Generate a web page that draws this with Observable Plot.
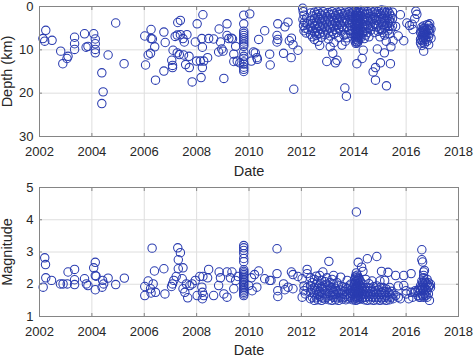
<!DOCTYPE html>
<html><head><meta charset="utf-8">
<script src="https://cdn.jsdelivr.net/npm/d3@7"></script>
<script src="https://cdn.jsdelivr.net/npm/@observablehq/plot@0.6"></script>
<style>
body{margin:0;background:#fff}
#chart{width:474px;height:356px;overflow:hidden;background:#fff}
#chart svg{display:block}
</style>
</head><body><div id="chart"></div>
<script>
// ---- tick values ----
const yearTicks = [2002, 2004, 2006, 2008, 2010, 2012, 2014, 2016, 2018];
const depthTicks = [0, 10, 20, 30];
const magTicks = [1, 2, 3, 4, 5];

// ---- depth (km) by decimal year: [year, [depths...]] ----
const depthSparse = [
[2002.13,[7.4]],[2002.2,[8.0]],[2002.24,[5.5]],[2002.48,[7.8]],[2002.81,[10.3]],[2002.89,[13.2]],[2003.05,[12.0]],[2003.09,[11.5]],[2003.34,[7.1,8.6,9.9]],[2003.72,[6.3]],[2003.78,[9.4]],[2003.85,[9.2]],[2004.07,[6.3]],[2004.13,[7.5,8.6,9.9,10.7]],[2004.38,[15.3,22.4]],[2004.43,[19.7]],[2004.62,[11.2]],[2004.91,[3.8]],[2005.23,[13.2]],
[2006.02,[6.8]],[2006.05,[13.5]],[2006.15,[11.2]],[2006.24,[10.8]],[2006.26,[5.3,7.4]],[2006.31,[7.5]],[2006.4,[9.3]],[2006.43,[17.0]],[2006.75,[5.9,14.9]],[2006.8,[8.3]],[2007.05,[12.4]],[2007.08,[13.6,14.1]],[2007.1,[10.1]],[2007.18,[6.9]],[2007.26,[6.6,10.7]],[2007.28,[3.7]],[2007.34,[11.1]],[2007.38,[3.2,6.5]],[2007.48,[7.4]],[2007.5,[11.2]],[2007.53,[8.2]],[2007.58,[13.4]],[2007.63,[6.5]],[2007.71,[11.5]],[2007.72,[14.1]],[2007.83,[17.4]],[2007.95,[8.2]],[2008.0,[12.6]],[2008.02,[4.0]],[2008.14,[12.6]],[2008.17,[16.4]],[2008.2,[7.4]],[2008.22,[9.4,14.1]],[2008.24,[1.9]],[2008.27,[12.6]],[2008.42,[11.8]],[2008.46,[7.4]],[2008.65,[7.5]],[2008.84,[10.5]],[2008.86,[5.2]],[2008.91,[8.2]],[2008.96,[9.8]],[2009.01,[10.3]],[2009.04,[16.6]],[2009.16,[4.0,6.7]],[2009.23,[7.4]],[2009.33,[7.3]],[2009.37,[7.5]],[2009.42,[11.0,12.7]],[2009.49,[9.2]],[2009.55,[12.6]],[2009.65,[13.0]],
[2009.8,[2.0,4.0,5.7,6.2,6.7,7.2,7.7,8.2,8.7,9.2,10.5,11.5,12.0,12.8,13.3,14.0,14.5,15.0]],
[2010.03,[1.7]],[2010.09,[12.6]],[2010.17,[10.5]],[2010.24,[10.7]],[2010.3,[11.8]],[2010.32,[12.2]],[2010.37,[7.6]],[2010.6,[5.6]],[2010.79,[11.0]],[2010.81,[13.5]],[2011.07,[6.7,8.2]],[2011.1,[4.0,7.6]],[2011.32,[10.8]],[2011.37,[4.7]],[2011.49,[3.6]],[2011.54,[7.9]],[2011.61,[11.8]],[2011.62,[7.3]],[2011.68,[8.8]],[2011.71,[19.1]],[2011.87,[10.1]]
];
const depthSwarm2012 = [
[2012.05,[0.4]],[2012.07,[1.2]],[2012.1,[2.0,5.6]],[2012.06,[3.0]],[2012.12,[3.6]],[2012.08,[4.4]],[2012.14,[5.0]],[2012.18,[6.1]],[2012.2,[2.6]],[2012.22,[4.0]],[2012.25,[5.3]],
[2012.35,[1.5,3.2,4.8,6.4]],[2012.42,[2.2,3.9,5.5,7.0]],[2012.5,[1.3,2.8,4.4,6.0,7.6]],[2012.57,[1.8,3.4,5.1,6.7]],[2012.63,[1.1,2.5,4.0,5.7,8.0]],[2012.7,[1.6,3.0,4.6,6.2,9.0]],[2012.77,[2.0,3.6,5.2,7.1]],[2012.83,[1.2,2.7,4.3,5.9]],[2012.9,[1.7,3.3,4.9,6.5]],[2012.97,[2.3,3.8,5.4,12.7]],
[2013.03,[1.4,2.9,4.5,6.1,7.5]],[2013.1,[1.9,3.5,5.0,6.8,9.3]],[2013.17,[1.2,2.6,4.2,5.8]],[2013.2,[10.8]],[2013.24,[1.7,3.2,4.7,6.3,8.3]],[2013.3,[2.1,3.7,5.3,13.0]],[2013.36,[1.3,2.8,4.4,6.0,12.4]],[2013.42,[1.8,3.4,5.0,7.1]],[2013.49,[1.1,2.5,4.1,5.6]],[2013.55,[1.6,3.1,4.6,8.9]],[2013.62,[2.0,3.6,5.2,6.6]],[2013.66,[18.8]],[2013.68,[1.3,2.7,6.5,8.0]],[2013.72,[20.7]],[2013.75,[1.8,3.3,4.8,7.2]],[2013.82,[1.2,2.4,4.0,5.5]],[2013.88,[1.7,3.0,4.5,6.2]],[2013.95,[1.3,2.6,3.9,5.3]]
];
const depthSwarm2014 = [
[2014.05,[1.0,2.1,3.0,4.1,5.0,6.1,7.0,8.0]],[2014.08,[1.5,2.5,3.6,4.5,5.6,6.5,7.5,8.5]],[2014.11,[1.2,2.2,3.2,4.3,5.2,6.3,7.2,8.2]],[2014.12,[13.2]],[2014.14,[1.7,2.7,3.8,4.7,5.7,6.8,7.7,8.4]],[2014.17,[1.0,2.0,3.1,4.0,5.1,6.0,7.1,8.0]],[2014.2,[1.4,2.8,4.3,5.8,7.3]],[2014.23,[2.0,3.5,5.0,6.5]],
[2014.27,[0.9,2.3,3.9,5.6,7.2]],[2014.32,[12.0]],[2014.33,[1.5,3.0,4.6,6.1]],[2014.36,[10.1]],[2014.4,[1.0,2.6,4.2,5.8,7.4]],[2014.46,[1.8,3.4,5.0,6.6]],[2014.52,[1.2,2.8,4.4,6.0]],[2014.58,[1.6,3.2,4.8,7.0]],[2014.65,[1.0,2.4,3.8,5.4]],[2014.72,[1.5,3.0,4.6]],[2014.74,[15.1]],[2014.79,[1.1,2.5,4.0,6.0]],[2014.83,[14.1,17.0]],[2014.86,[1.7,3.2,4.7]],[2014.9,[9.8]],[2014.93,[1.2,2.6,4.2,5.7]],
[2015.0,[1.6,3.0,5.2,7.0]],[2015.02,[13.0]],[2015.06,[0.8,2.2,3.7,5.4]],[2015.12,[1.3,2.8,4.3,6.0]],[2015.17,[10.7]],[2015.18,[0.9,2.0,3.5,5.0,6.6]],[2015.24,[1.4,2.9,4.4,8.0]],[2015.25,[18.3]],[2015.3,[1.0,2.4,3.9,5.6]],[2015.36,[1.6,3.1,4.6,6.3]],[2015.4,[13.2]],[2015.42,[2.2,3.6,5.2,9.3]],[2015.48,[1.3,2.8,4.5]],[2015.5,[7.9]],
[2015.6,[4.6]],[2015.7,[6.8]],[2015.78,[1.9]],[2015.91,[7.9]],[2016.03,[3.8]],[2016.13,[4.4]],[2016.23,[4.1]],[2016.26,[5.3]],[2016.33,[2.8]],[2016.37,[1.1]],[2016.41,[1.8]],
[2016.55,[6.0,7.6,8.4]],[2016.6,[4.8,5.8,6.8,7.8,9.0]],[2016.64,[5.2,6.2,7.2,8.2]],[2016.67,[4.5,5.5,6.5,7.5,10.3]],[2016.7,[5.0,6.0,7.0,8.6]],[2016.74,[5.6,6.6,7.6]],[2016.8,[4.2,5.2,6.4,8.0]],[2016.86,[4.4,5.5,7.0,8.8]],[2016.9,[4.0,5.0,6.2]],[2016.95,[5.2,7.3]]
];

// ---- magnitude by decimal year: [year, [magnitudes...]] ----
const magSparse = [
[2002.14,[1.91]],[2002.2,[2.82]],[2002.23,[2.61]],[2002.24,[2.2]],[2002.46,[2.12]],[2002.8,[2.01]],[2002.9,[2.01]],[2003.06,[2.01]],[2003.09,[2.38]],[2003.34,[2.46,2.14,1.99]],[2003.72,[2.17]],[2003.79,[2.01]],[2003.85,[1.96]],[2004.07,[2.51]],[2004.13,[2.68,2.27,1.83]],[2004.16,[2.25]],[2004.39,[1.91]],[2004.41,[2.12]],[2004.45,[2.01]],[2004.62,[2.19]],[2004.91,[1.99]],[2005.24,[2.19]],
[2006.02,[1.93,1.65]],[2006.15,[2.1]],[2006.24,[1.86]],[2006.26,[1.73]],[2006.3,[3.12]],[2006.34,[2.01]],[2006.39,[2.41]],[2006.43,[1.75]],[2006.75,[2.48]],[2006.79,[1.7]],[2007.04,[1.93]],[2007.08,[2.01]],[2007.13,[2.12]],[2007.22,[2.24]],[2007.28,[3.13]],[2007.3,[2.76,2.48]],[2007.38,[2.98]],[2007.45,[2.17]],[2007.48,[2.51,1.86]],[2007.55,[1.75]],[2007.61,[2.01]],[2007.66,[1.58]],[2007.74,[1.96]],[2007.83,[2.01]],[2007.95,[2.12]],[2008.02,[1.65]],[2008.12,[2.24]],[2008.2,[1.91]],[2008.22,[1.75,1.55]],[2008.24,[2.24]],[2008.27,[1.65]],[2008.42,[2.2]],[2008.46,[2.46]],[2008.65,[1.65]],[2008.84,[1.96]],[2008.86,[2.38]],[2008.91,[2.2]],[2009.04,[1.7]],[2009.16,[1.6,2.38]],[2009.29,[2.2]],[2009.35,[2.38]],[2009.42,[1.86]],[2009.49,[2.12]],[2009.58,[2.24]],
[2009.8,[3.2,3.13,3.05,2.95,2.8,2.7,2.45,2.4,2.35,2.3,2.25,2.2,2.15,2.1,2.05,2.0,1.95,1.9,1.85,1.8,1.75,1.7,1.65]],
[2009.99,[1.96]],[2010.09,[2.2]],[2010.12,[1.8]],[2010.21,[2.3]],[2010.3,[1.91]],[2010.37,[2.41]],[2010.6,[2.17]],[2010.79,[2.12]],[2010.84,[2.12]],[2011.07,[3.1,2.33]],[2011.1,[1.8,1.62]],[2011.32,[2.01]],[2011.37,[1.83]],[2011.49,[1.91]],[2011.62,[2.38]],[2011.68,[2.3,1.86]],[2011.87,[2.24]]
];
const magSwarm2012 = [
[2012.03,[2.17,1.6]],[2012.1,[1.95,1.8]],[2012.15,[1.7]],[2012.22,[2.46,2.33,1.9]],
[2012.35,[1.55,1.75,1.95,2.2]],[2012.42,[1.6,1.85,2.05]],[2012.5,[1.5,1.7,1.9,2.15]],[2012.57,[1.58,1.8,2.0,2.25]],[2012.63,[1.52,1.68,1.88,2.1]],[2012.7,[1.62,1.78,1.98,2.27]],[2012.77,[1.5,1.72,1.92,2.12]],[2012.82,[1.58,1.85,2.38]],[2012.9,[1.54,1.7,1.9,2.08]],[2012.97,[1.6,1.8,2.0,2.2]],
[2013.05,[1.52,1.72,1.95,2.71]],[2013.1,[1.65,1.85,2.05]],[2013.17,[1.5,1.7,1.9,2.15]],[2013.23,[1.6,1.78,2.0,2.27]],[2013.3,[1.52,1.68,1.88]],[2013.36,[1.58,1.8,2.05]],[2013.42,[1.5,1.72,1.95]],[2013.5,[1.6,1.82,2.22]],[2013.57,[1.54,1.7,1.92]],[2013.64,[1.6,1.78]],[2013.7,[1.52,1.68,1.9]],[2013.75,[1.62,1.85,2.12]],[2013.82,[1.55,1.72,1.95]],[2013.88,[1.6,1.8,2.0]],[2013.95,[1.52,1.7,1.88]]
];
const magSwarm2014 = [
[2014.03,[1.55,1.7,1.85,2.0,2.15]],[2014.07,[1.5,1.62,1.78,1.92,2.08,2.25]],[2014.1,[1.58,1.72,1.88,2.02,2.2,2.35,4.24]],[2014.14,[1.52,1.66,1.8,1.96,2.12,2.28]],[2014.17,[1.6,1.75,1.9,2.05,2.18,2.68]],[2014.21,[1.54,1.7,1.85,2.0,2.15]],[2014.25,[1.62,1.78,1.95,2.1]],[2014.3,[1.55,1.72,1.9,2.53]],[2014.35,[1.6,1.8,2.0,2.4]],[2014.4,[1.52,1.68,1.88]],[2014.46,[1.6,1.78,2.15]],[2014.52,[1.5,1.7,1.9,2.79]],[2014.58,[1.62,1.8,2.02]],[2014.64,[1.52,1.7,1.88]],[2014.7,[1.6,1.78,2.1]],[2014.76,[1.5,1.68,1.92]],[2014.82,[1.6,1.8]],[2014.88,[1.52,1.72,1.95,2.86]],[2014.94,[1.6,1.82]],
[2015.0,[1.5,1.68,1.9,2.1]],[2015.06,[1.58,1.75,2.4]],[2015.12,[1.52,1.7,1.9]],[2015.18,[1.6,1.78,2.12]],[2015.24,[1.5,1.65,1.85]],[2015.31,[1.58,1.75,2.37]],[2015.37,[1.52,1.7,1.9]],[2015.43,[1.6,1.78]],[2015.5,[1.55,1.7]],[2015.6,[2.27,1.65]],[2015.7,[1.6,1.95]],[2015.78,[1.55]],[2015.91,[2.27,1.96]],[2016.0,[1.8,1.7]],[2016.1,[1.55]],[2016.19,[2.33,1.75]],[2016.25,[1.6]],[2016.35,[1.75,1.8]],[2016.45,[1.8,1.65]],[2016.5,[1.85,1.6]],
[2016.55,[1.6,1.8,1.95]],[2016.6,[3.07,2.76,1.7,1.9,2.1]],[2016.63,[2.69,1.65,1.85,2.05]],[2016.67,[2.38,2.27,1.6,1.8,2.0,2.2]],[2016.7,[2.43,1.7,1.9,2.1]],[2016.75,[1.65,1.85,2.05]],[2016.8,[1.6,1.8,2.0,2.15]],[2016.85,[1.7,1.9,2.05]],[2016.89,[1.5,1.95]],[2016.93,[1.9,2.0]]
];

// ---- build rows ----
const toRows = groups => groups.flatMap(([year, vals]) => vals.map(v => ({year, v})));
const depthRows = toRows([...depthSparse, ...depthSwarm2012, ...depthSwarm2014]);
const magRows = toRows([...magSparse, ...magSwarm2012, ...magSwarm2014]);

const blue = "#2a3cb0";
const gridColor = "#dedede";
const frameColor = "#858585";
const font = "'Liberation Sans', Arial, sans-serif";

function panel({rows, yDomain, yReverse, yTicks, yLabel, marginTop, marginBottom, xLabelOffset}) {
  return Plot.plot({
    width: 474, height: 178,
    marginLeft: 39, marginRight: 16, marginTop, marginBottom,
    style: {fontFamily: font, fontSize: "13px", color: "#262626", background: "#fff", overflow: "visible"},
    x: {domain: [2002, 2018]},
    y: {domain: yDomain, reverse: yReverse},
    marks: [
      Plot.gridX(yearTicks, {stroke: gridColor, strokeOpacity: 1}),
      Plot.gridY(yTicks, {stroke: gridColor, strokeOpacity: 1}),
      Plot.dot(rows, {x: "year", y: "v", r: 4.2, stroke: blue, strokeWidth: 1.05, fill: "none"}),
      Plot.axisX(yearTicks, {anchor: "bottom", tickSize: 0, tickPadding: 10, tickFormat: d => String(d), label: null, fontSize: 13}),
      Plot.axisX(yearTicks, {anchor: "bottom", tickSize: -3, tickFormat: () => "", label: null, stroke: frameColor}),
      Plot.axisX(yearTicks, {anchor: "top", tickSize: -3, tickFormat: () => "", label: null, stroke: frameColor}),
      Plot.axisX([], {anchor: "bottom", label: "Date", labelAnchor: "center", labelArrow: "none", labelOffset: xLabelOffset, fontSize: 14.5}),
      Plot.axisY(yTicks, {anchor: "left", tickSize: 0, tickPadding: 6, label: null, fontSize: 13}),
      Plot.axisY(yTicks, {anchor: "left", tickSize: -3, tickFormat: () => "", label: null, stroke: frameColor}),
      Plot.axisY(yTicks, {anchor: "right", tickSize: -3, tickFormat: () => "", label: null, stroke: frameColor}),
      Plot.axisY([], {anchor: "left", label: yLabel, labelAnchor: "center", labelArrow: "none", labelOffset: 38, fontSize: 14.5}),
      Plot.frame({stroke: frameColor, strokeWidth: 1})
    ]
  });
}

const chart = document.getElementById("chart");
chart.append(panel({rows: depthRows, yDomain: [0, 30], yReverse: true, yTicks: depthTicks, yLabel: "Depth (km)", marginTop: 6, marginBottom: 42, xLabelOffset: 39}));
chart.append(panel({rows: magRows, yDomain: [1, 5], yReverse: false, yTicks: magTicks, yLabel: "Magnitude", marginTop: 9, marginBottom: 40, xLabelOffset: 38}));
</script>
</body></html>
